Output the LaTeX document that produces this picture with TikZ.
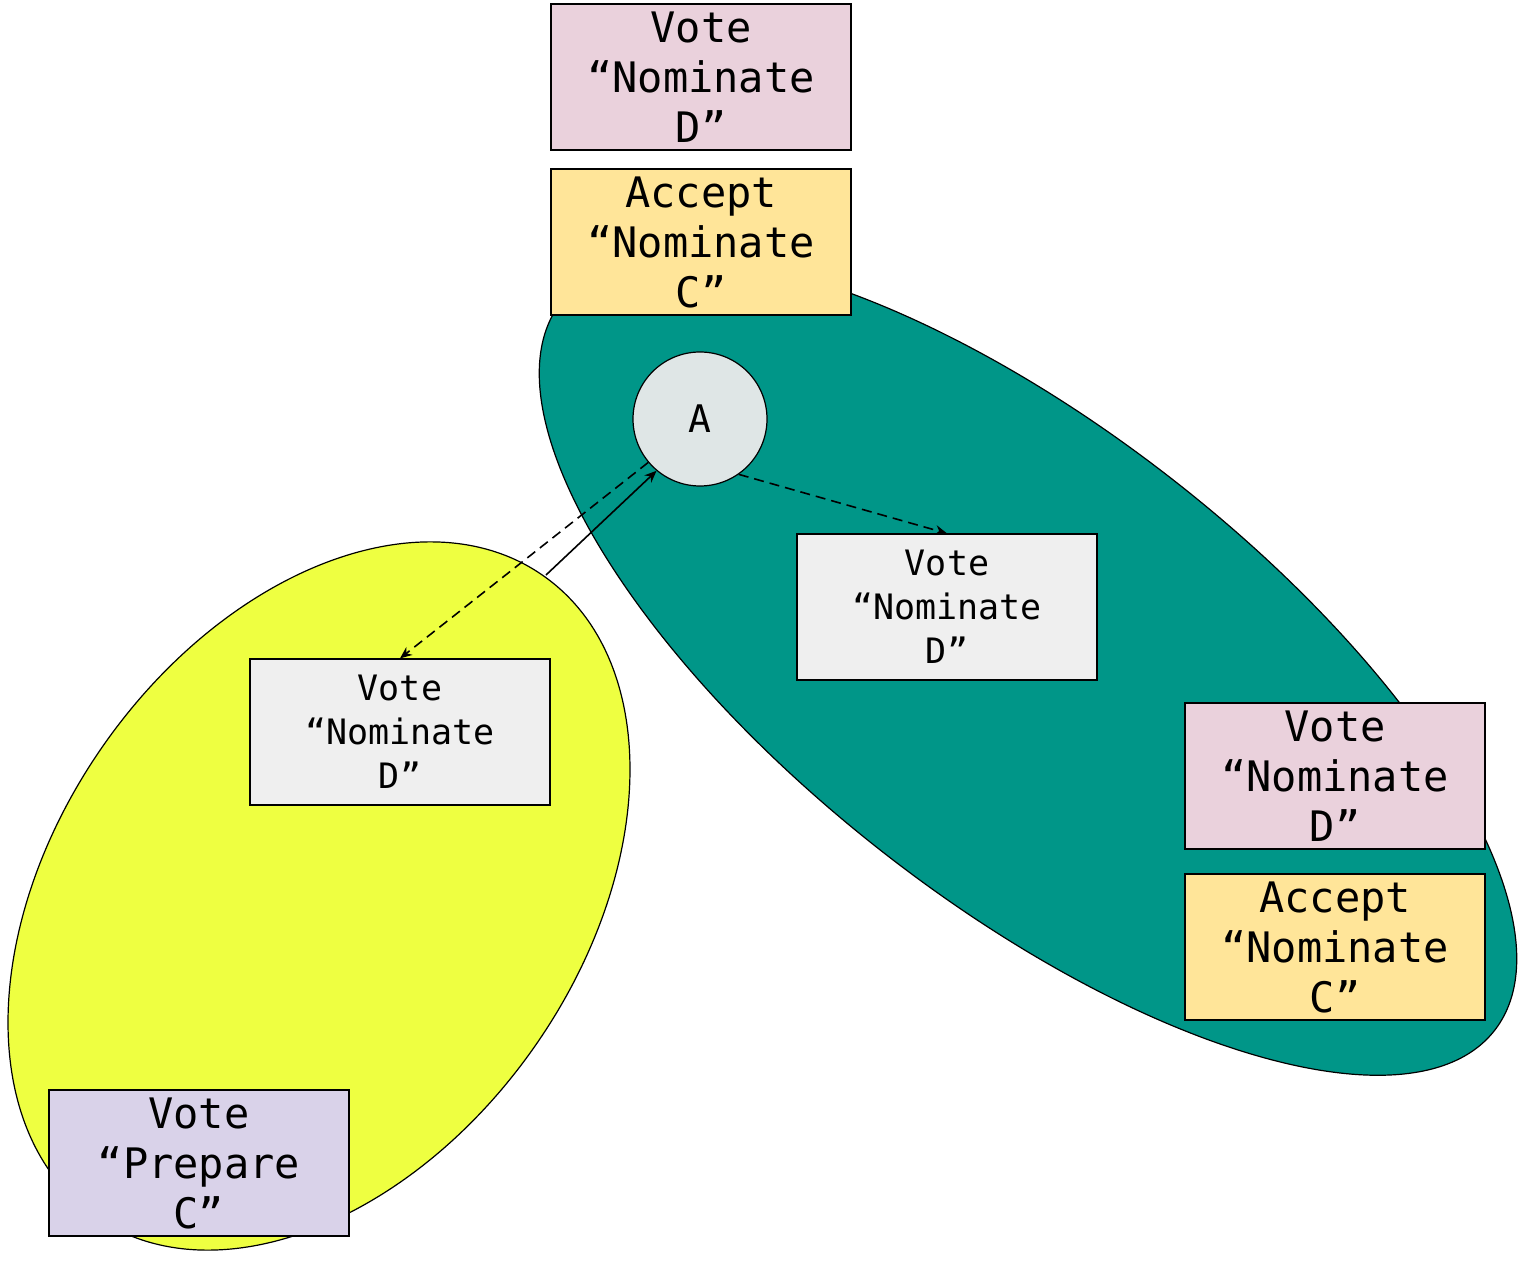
\documentclass[tikz,border=0pt]{standalone}
\usepackage{fontspec}
\setmonofont{DejaVu Sans Mono}
\usetikzlibrary{arrows.meta}
\definecolor{teal1}{HTML}{009688}
\definecolor{yel}{HTML}{EEFF41}
\definecolor{pinkb}{HTML}{EAD1DC}
\definecolor{yelb}{HTML}{FFE599}
\definecolor{greyb}{HTML}{EFEFEF}
\definecolor{circ}{HTML}{DFE6E6}
\definecolor{purb}{HTML}{D9D2E9}
\begin{document}
\begin{tikzpicture}[x=0.5pt,y=-0.5pt,
 box/.style={draw,line width=0.6pt,minimum width=150pt,minimum height=73pt,inner sep=0pt,align=center,font=\ttfamily\fontsize{21}{25}\selectfont},
 sbox/.style={box,font=\ttfamily\fontsize{17.5}{22}\selectfont},
 arr/.style={-{Stealth[length=6pt,width=5pt]},line width=0.8pt},
 dsh/.style={dash pattern=on 5pt off 3pt}]
\useasboundingbox (0,0) rectangle (1536,1261);
\path[draw,fill=teal1,line width=0.6pt] (1028,666) ellipse [x radius=296pt,y radius=118pt,rotate=-38];
\path[draw,fill=yel,line width=0.6pt] (319,896) ellipse [x radius=195.5pt,y radius=131.5pt,rotate=55];
\node[box,fill=pinkb] (v1) at (701,77) {Vote\\“Nominate\\D”};
\node[box,fill=yelb] (a1) at (701,242) {Accept\\“Nominate\\C”};
\node[draw,fill=circ,circle,minimum size=67pt,inner sep=0pt,line width=0.6pt,font=\ttfamily\fontsize{19}{22}\selectfont] (A) at (700,419) {A};
\node[sbox,fill=greyb] (g1) at (947,607) {Vote\\“Nominate\\D”};
\node[sbox,fill=greyb] (g2) at (400,732) {Vote\\“Nominate\\D”};
\node[box,fill=pinkb] (v2) at (1335,776) {Vote\\“Nominate\\D”};
\node[box,fill=yelb] (a2) at (1335,947) {Accept\\“Nominate\\C”};
\node[box,fill=purb] (p) at (199,1163) {Vote\\“Prepare\\C”};
\coordinate (s) at (546,575);
\draw[arr,dsh] (A.-55) -- (g1.north);
\draw[arr,dsh] (A.-140) -- (g2.north);
\draw[arr] (s) -- (A.-130);
\end{tikzpicture}
\end{document}
